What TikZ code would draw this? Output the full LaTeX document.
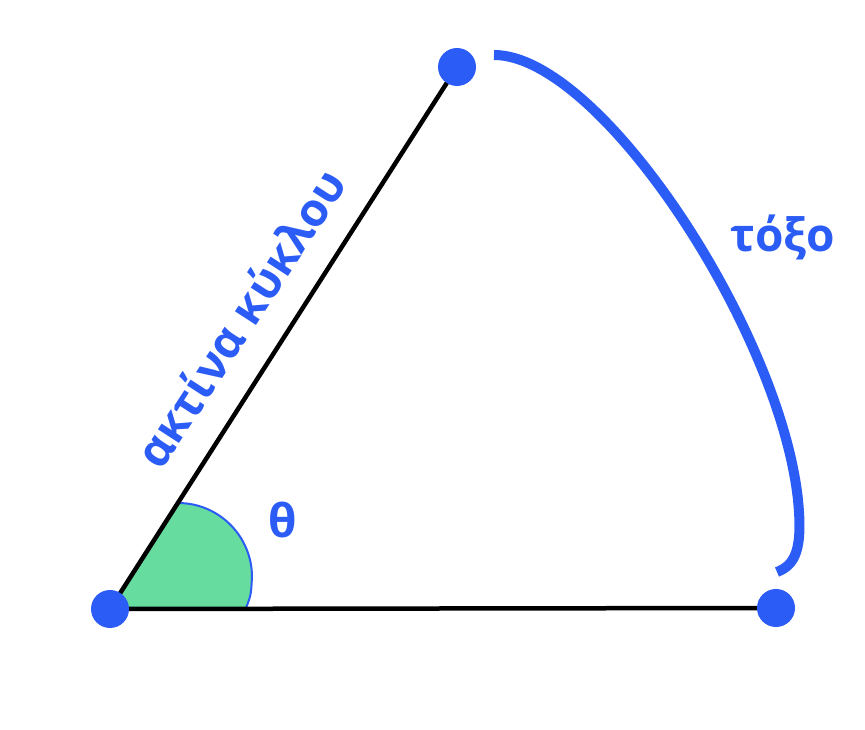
\documentclass[tikz,border=0pt]{standalone}
\usepackage{fontspec}
\setmainfont{Open Sans}
\definecolor{dotblue}{RGB}{44,92,246}
\definecolor{sectorgreen}{RGB}{102,220,158}
\tikzset{
    dot/.style={circle, fill=dotblue, inner sep=0pt, minimum size=38pt},
    radius line/.style={line width=4.5pt, black},
    label text/.style={text=dotblue, font=\bfseries\fontsize{46}{52}\selectfont, inner sep=0pt}
}
\begin{document}
\begin{tikzpicture}[x=1pt, y=1pt]
        \useasboundingbox (0, 0) rectangle (865, 730);
        \coordinate (o) at (110, 121);
        \coordinate (a) at (457, 663);
        \coordinate (b) at (776, 122);

        % angle sector
        \fill[sectorgreen] (o) -- (246, 122) .. controls (251, 135) .. (252, 153)
            arc[start angle=0, end angle=90, radius=74] -- cycle;
        \draw[line width=2pt, dotblue] (246, 122) .. controls (251, 135) .. (252, 153)
            arc[start angle=0, end angle=90, radius=74];

        \draw[radius line] (o) -- (a);
        \draw[radius line] (o) -- (b);

        % the arc
        \draw[line width=10pt, dotblue] (494, 675) .. controls (600, 675) and (780, 400) .. (798, 230)
            .. controls (803, 180) and (795, 165) .. (777, 158);

        \node[dot] (O) at (o) {};
        \node[dot] (A) at (a) {};
        \node[dot] (B) at (b) {};

        \node[label text] (arclabel) at (783, 493) {τόξο};
        \node[label text, rotate=57] (radiuslabel) at (240, 412) {ακτίνα κύκλου};
        \node[label text] (anglelabel) at (283, 210) {θ};
    \end{tikzpicture}
\end{document}
